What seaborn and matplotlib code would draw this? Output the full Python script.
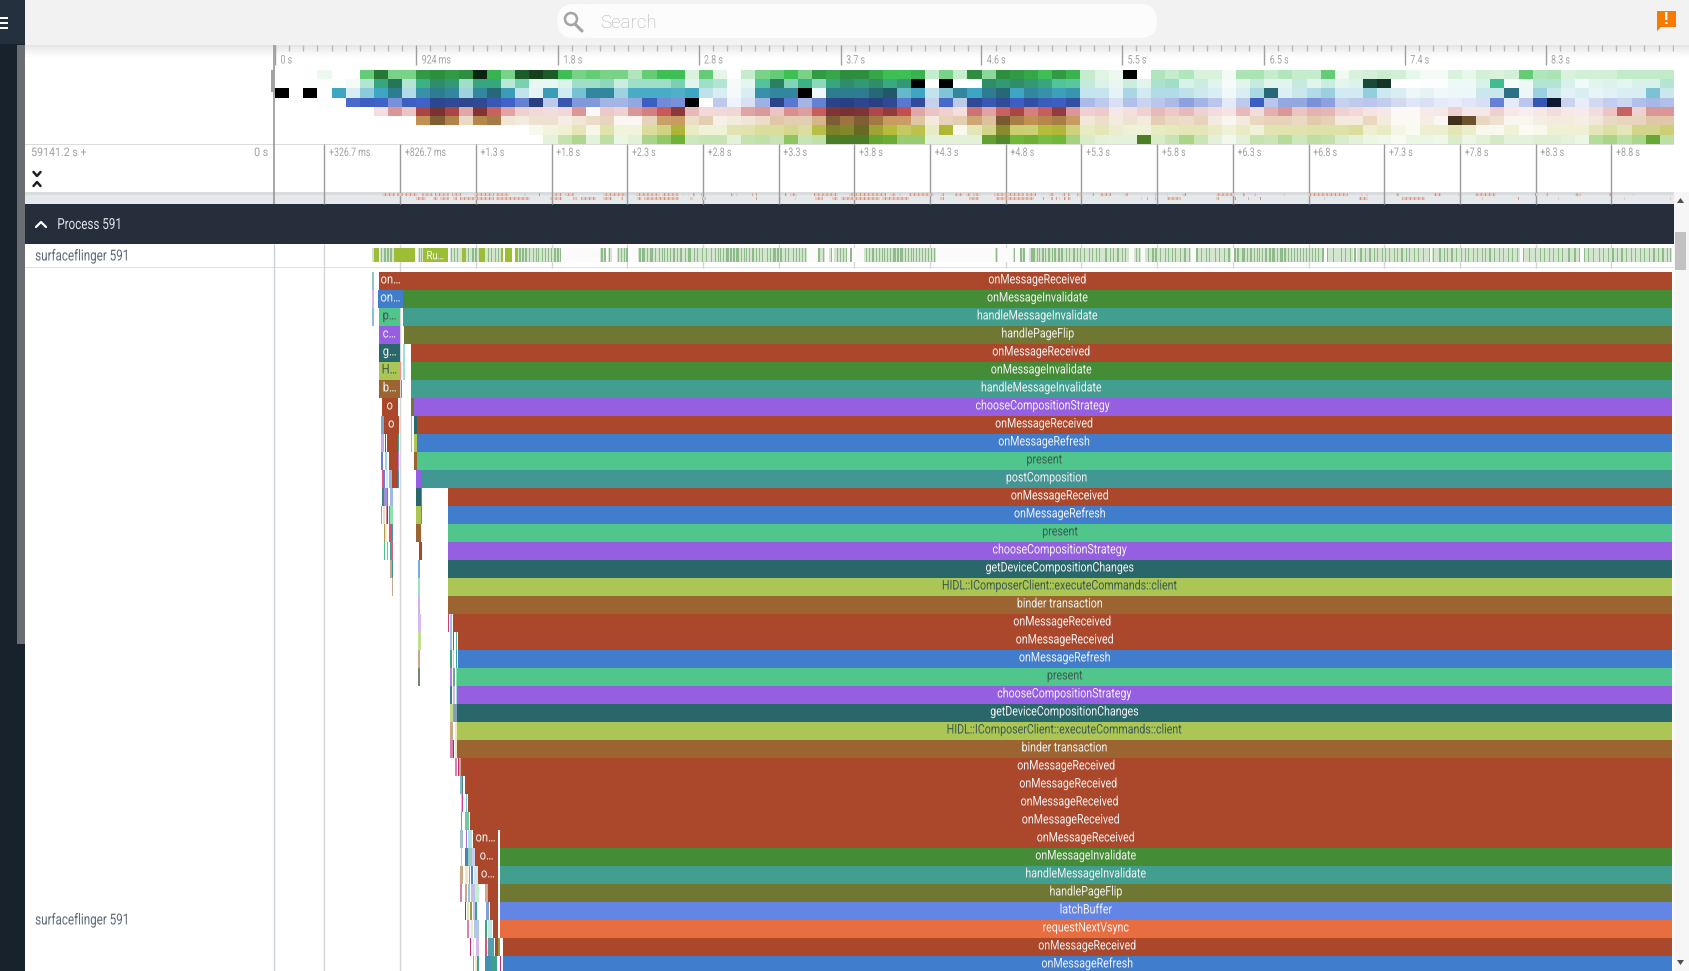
import matplotlib
matplotlib.use('Agg')
import matplotlib.pyplot as plt
import numpy as np
import pandas as pd
import seaborn as sns
from matplotlib.colors import LinearSegmentedColormap, to_rgb
from matplotlib.patches import Rectangle, FancyBboxPatch, Circle, Polygon
from matplotlib.patheffects import AbstractPathEffect
from matplotlib.transforms import Affine2D

W, H = 1689, 971

# cpu heat strip, one list per row, 0 = white, 5 = full colour, 10 = black
heat_hues = ['#3dbf55', '#3fbd8f', '#3ea6c2', '#3f62c8', '#c34f50', '#c29050', '#b5bb3a', '#70b838']
heat_0 = [0, 0, 0, .5, 0, 0, 4, 8, 3.5, 3.5, 6.5, 7, 6.5, 7, 9.5, 5.5, 3.5, 8.5, 9, 8.5, 5, 3.5, 4, 3.5, 3.5, 2, 4, 5, 5, 1, 4, .7, 0, 1.5, 3.5, 4, 5, 3.5, 6.5, 6, 7, 7, 6, 5, 5, 5.5, 1.5, 3.5, 1.5, 7,
          3, 7, 6.5, 6, 5, 6.5, 5.5, 1.5, .8, .5, 10, 0, 2, 1.5, 2, 1, 1, .3, 2.2, 2.2, 1.5, 2, 1.5, 1.5, 4, .4, 1, 1.2, 1.4, 1.2, .6, .3, .3, 1, .6, 1.2, 1, 1.2, 4, 2, 2.2, 1, 1.2, 1.2, 1.2, 1.6, 1.6, 1.6, 1.6]
heat_1 = [0, 0, .1, .1, .1, .3, 2, 6, 8, 2, 5.5, 7, 6.5, 2.5, 6, 6, 1.8, 3.5, .6, .6, .9, 2.5, 2.5, 3, 1.4, 2.5, 2.5, 2.5, 3.5, .8, 2.5, 2, .3, .7, 4.5, 7.5, 3.3, 5.5, 3, 6, 7, 6.5, 7, 5.8, 6.5, 10, 0, 10, 0, 0,
          7, 6.5, 7, 6.5, 6, 4.5, 4.3, 1.6, .9, .6, 1.4, .8, 2.2, 2.5, 1, 1.4, .8, .2, .8, 1.5, .8, .8, 1.5, .8, 1.4, .7, .9, 8.8, 9.2, 0, 0, .1, .1, .5, .5, 1, 5, .3, .5, 2, 2, 1, .4, .8, .9, .7, 1, 1, 2]
heat_2 = [10, 0, 10, 0, 5, 1, 3, 5, 7, 2, 6, 7, 6.5, 2.5, 6.5, 8, 5.5, 1.6, .7, 5.5, 1.2, 3.5, 6.5, 6.5, 2.5, 4.7, 4.7, 4.7, 4.5, 5, 1.7, 1, .3, 1, 6, 6.5, 6.5, 10, .4, 7, 7, 7, 8, 8.3, 4, 5, 1.6, 3.3, 6.5, 5,
          7, 8, 5, 6.5, 6, 5.3, 5.8, 1.5, 1.5, .7, 2.3, 1.2, 2, 2, 1.7, 1.3, 1, .4, 1, 2.2, 8, .9, 1.4, 2, 2.6, 1.2, 1.2, 2.8, 1.3, 1, .5, .7, .4, .5, .5, 1.4, 1.4, 7.5, .5, 2.6, 1.4, .8, 1, .6, .8, 1, 1, 3.4, 1.4]
heat_3 = [0, 0, 0, .1, 0, 4.7, 5.2, 5, 3.5, 5.3, 5, 7.2, 7, 7.3, 7, 5.8, 5, 4, 7.8, 1.7, 6, 3.3, 3.3, 2.4, 2.4, 2.8, 5.3, 3.7, 3.5, 10, 0, 1.7, .4, 1, 2.5, 7.5, 4.3, 2.4, 4, 7.5, 7.8, 7.3, 7.7, 7, 4.3, 6.8, 1.5, 4.8, 1.7, 7,
          5.8, 6.8, 5.2, 6.5, 5.5, 5.3, 6.5, 2.2, 1.7, 1, 2, 1.4, 1.8, 2.2, 3, 2.4, 1.8, .7, 1.7, 5.3, 1.8, 2.8, 2.8, 3.5, 3, 1.5, 1.7, 1.8, 1.6, 1.2, .8, 1, .7, .6, .8, 1, 4, .7, 1.8, 6, 9.3, 1.4, .6, 1.2, 1.6, 1.3, 2, 2.3, 2]
heat_4 = [0] * 7 + [.9, 3, 1.7, 6, 8, 6, 2.5, 7.7, 4.5, 2.6, 1.4, 1.1, 1, 1.1, 3, .2, 1.6, 1.3, 3, 3.6, 4.7, 7.3, 2, 1.1, 1.1, 1.2, 2.6, 2.9, 1.7, 3.2, 2.8, 4.6, 7.7, 8, 7.8, 5.8, 7, 5, 2.5, 1.7, 1.4, .9, 4,
                    2.6, 4.5, 6, 3.6, 4.6, 7, 3, 1.4, 1.5, .7, .9, 1.3, 2, 1.6, 2, 1.3, 1, .8, 2, 1, 2.3, 3, 1.7, 2.2, 2.1, 1.3, 1.1, .8, .7, .2, .2, .6, .7, 1.3, .7, .7, 1.4, .7, .5, .7, 1, .7, .6, 1, 1.7, 4.5, 1.3, 3, 3]
heat_5 = [0] * 10 + [5, 7.7, 5.7, 1.7, 5.5, 6.2, 1.2, .9, 1.4, 1.4, .8, 1.2, 1.6, 1.9, .4, .4, 2, 4.3, 4.5, 1.6, 2.2, .7, .9, 1.2, 1.6, 2.5, 2.2, 2.2, 3.3, 7.8, 6.5, 7.7, 6.3, 4.5, 4.4, 2.6, 1, 2, 2.2, 4,
                     2.8, 8, 6, 5, 5.5, 6, 4.5, 1.1, 1.5, .9, 1.3, .9, 2.2, 1.7, 1.6, 2, .9, .5, 1, 1.8, 2, 2, 1.7, 2.4, 2.1, 1, 1, 1.8, .9, .3, .3, .8, .4, 9, 8.2, 1.8, 1.4, .5, .5, .8, .9, .9, .8, 1.1, 1.7, 1.9, 1.9, 2.5, 2.5]
heat_6 = [0] * 18 + [.5, .8, 1.1, 1.8, .6, 2.1, .9, .9, 2.5, 3.2, 5.3, 1.5, 1, 1, 2, 2.1, 2.5, 2.5, 2.9, 2.4, 4.7, 7.5, 7.2, 8.2, 6, 5, 4, 4.6, 1.5, 5.2, .5, 1.8,
                     3, 7, 3.6, 3.5, 5, 5.2, 3.3, 1.6, 1.8, 1.3, 1, 1, 1.6, 1.7, 1.8, 1.8, 1.5, 1, 1.5, 1, 2, 2, 2.1, 2.2, 2.2, 2.2, 2.5, 1.2, 1.5, .7, .4, 1.2, 1.2, 1.8, 1.3, .5, .5, 1, .3, .5, 1.1, 1.1, 1.1, 1.8, 2.3, 1.8, 3, 3, 3.5]
heat_7 = [0] * 19 + [.9, 2, 2.8, .9, 2.3, .7, 1, 3, 3.8, 5.2, 1.7, 1.9, 1.9, 1, 2, 2.2, 1.9, 4, 1.9, 2.2, 7.5, 7.5, 7.5, 5.8, 5.5, 3.6, 3.6, 1, 1, 1, 1,
                     6, 7, 5, 5.3, 4.7, 5, 3.2, 1.4, 1, .9, .9, 7.5, 1.4, 1.9, 3, 1.8, 1, .5, 1, 2, 1.8, 2.5, 1.7, 2.3, 2.1, 1.3, 1, .7, .6, .3, .7, .7, .6, 1.3, .7, 1, 1.5, .9, .9, 1.1, 1.1, .9, .7, 2.5, 3, 2.3, 2.9, 5.7, 2.3]

overview_times = [0, .924, 1.85, 2.77, 3.7, 4.62, 5.54, 6.47, 7.39, 8.31]
overview_labels = ['0 s', '924 ms', '1.8 s', '2.8 s', '3.7 s', '4.6 s', '5.5 s', '6.5 s', '7.4 s', '8.3 s']
ruler_times = [.3267, .8267, 1.3267, 1.8267, 2.3267, 2.8267, 3.3267, 3.8267, 4.3267, 4.8267, 5.3267, 5.8267, 6.3267, 6.8267, 7.3267, 7.8267, 8.3267, 8.8267]
ruler_labels = ['+326.7 ms', '+826.7 ms', '+1.3 s', '+1.8 s', '+2.3 s', '+2.8 s', '+3.3 s', '+3.8 s', '+4.3 s', '+4.8 s',
                '+5.3 s', '+5.8 s', '+6.3 s', '+6.8 s', '+7.3 s', '+7.8 s', '+8.3 s', '+8.8 s']

# slices of the main thread
slice_colors = {
    'onMessageReceived': '#ab482b', 'onMessageInvalidate': '#458c37', 'handleMessageInvalidate': '#429f90',
    'handlePageFlip': '#6f7733', 'chooseCompositionStrategy': '#965ee0', 'onMessageRefresh': '#407dcc',
    'present': '#50c68c', 'postComposition': '#429694', 'getDeviceCompositionChanges': '#2a676b',
    'HIDL::IComposerClient::executeCommands::client': '#abc655', 'binder transaction': '#9c6430',
    'latchBuffer': '#6285e6', 'requestNextVsync': '#e86e40',
}
dark_text = ['present', 'HIDL::IComposerClient::executeCommands::client']
hidl = 'HIDL::IComposerClient::executeCommands::client'
long_names = ['onMessageReceived', 'onMessageInvalidate', 'handleMessageInvalidate', 'handlePageFlip',
              'onMessageReceived', 'onMessageInvalidate', 'handleMessageInvalidate', 'chooseCompositionStrategy',
              'onMessageReceived', 'onMessageRefresh', 'present', 'postComposition',
              'onMessageReceived', 'onMessageRefresh', 'present', 'chooseCompositionStrategy',
              'getDeviceCompositionChanges', hidl, 'binder transaction',
              'onMessageReceived', 'onMessageReceived', 'onMessageRefresh', 'present', 'chooseCompositionStrategy',
              'getDeviceCompositionChanges', hidl, 'binder transaction',
              'onMessageReceived', 'onMessageReceived', 'onMessageReceived', 'onMessageReceived',
              'onMessageReceived', 'onMessageInvalidate', 'handleMessageInvalidate', 'handlePageFlip',
              'latchBuffer', 'requestNextVsync', 'onMessageReceived', 'onMessageRefresh']
long_starts = [.845, .846, .843, .848, .896, .896, .896, .916, .933, .933, .933, .966,
               1.14, 1.14, 1.14, 1.14, 1.14, 1.14, 1.14,
               1.173, 1.205, 1.205, 1.202, 1.202, 1.202, 1.202, 1.202,
               1.225, 1.252, 1.269, 1.285, 1.482, 1.482, 1.482, 1.482, 1.482, 1.482, 1.502, 1.502]
long_end = 9.203

# depth, start, end, name, label
short_slices = [
    (0, .683, .841, 'onMessageReceived', 'on…'), (1, .681, .841, 'onMessageRefresh', 'on…'),
    (2, .685, .823, 'present', 'p…'), (3, .685, .823, 'chooseCompositionStrategy', 'c…'),
    (4, .685, .826, 'getDeviceCompositionChanges', 'g…'), (5, .685, .823, hidl, 'H…'),
    (6, .685, .826, 'binder transaction', 'b…'), (7, .702, .810, 'onMessageReceived', 'o'),
    (8, .718, .814, 'onMessageReceived', 'o'), (9, .735, .810, 'onMessageReceived', ''),
    (10, .751, .810, 'onMessageReceived', ''), (11, .769, .808, 'onMessageReceived', ''),
    (31, 1.304, 1.471, 'onMessageReceived', 'on…'), (32, 1.318, 1.471, 'onMessageReceived', 'o…'),
    (33, 1.335, 1.471, 'onMessageReceived', 'o…'), (34, 1.403, 1.471, 'onMessageReceived', ''),
    (35, 1.416, 1.471, 'onMessageReceived', ''), (36, 1.434, 1.471, 'onMessageReceived', ''),
    (37, 1.449, 1.471, 'onMessageReceived', ''),
]

# thin unlabelled slices: depth, start, end, colour
slivers = [
    (0, .639, .652, '#8cc8c0'), (1, .639, .652, '#d4b5f0'), (2, .639, .652, '#8cbcd8'),
    (8, .698, .718, '#7ea8c8'), (9, .698, .718, '#c8a8e8'), (9, .725, .731, '#3060c0'), (9, .810, .817, '#45a090'),
    (10, .698, .712, '#6b7fd0'), (10, .725, .738, '#a8c8f0'), (10, .810, .817, '#b07ee0'),
    (11, .702, .712, '#e05080'), (11, .712, .722, '#6b7fd0'), (11, .731, .745, '#d0efe0'), (11, .751, .768, '#90b8e0'), (11, .810, .817, '#5090c8'),
    (12, .702, .712, '#3f7f80'), (12, .712, .720, '#5078c0'), (12, .720, .735, '#a090d8'), (12, .735, .745, '#40a090'), (12, .757, .775, '#a0b8e8'),
    (13, .698, .705, '#c49478'), (13, .712, .725, '#e8e0c8'), (13, .731, .735, '#e080a0'), (13, .738, .742, '#406060'), (13, .748, .757, '#e06080'), (13, .760, .775, '#90e0b0'),
    (14, .716, .725, '#b09850'), (14, .725, .735, '#f0e8d0'), (14, .735, .738, '#808030'), (14, .750, .757, '#6080d0'), (14, .760, .770, '#e05070'), (14, .770, .775, '#40a0a0'),
    (15, .715, .722, '#50c090'), (15, .735, .745, '#c8a070'), (15, .757, .765, '#40a090'), (15, .765, .775, '#e06080'),
    (16, .757, .772, '#c8a888'), (16, .772, .778, '#3f8f90'), (17, .768, .778, '#c8a888'),
    (4, .843, .856, '#a0dce0'), (5, .823, .832, '#f09090'), (5, .843, .856, '#a0dce0'), (6, .829, .836, '#50a0a0'),
    (7, .896, .916, '#6f7733'), (8, .896, .903, '#70c8d8'), (9, .896, .903, '#70c8d8'),
    (8, .916, .933, '#2a676b'), (9, .916, .933, '#abc655'), (10, .916, .933, '#9c6430'),
    (11, .929, .966, '#965ee0'), (12, .929, .962, '#2a676b'), (12, .962, .968, '#5090c8'),
    (13, .929, .962, '#abc655'), (13, .962, .968, '#5090c8'), (14, .929, .962, '#9c6430'),
    (15, .949, .968, '#ab482b'), (16, .942, .955, '#80a8e0'), (17, .942, .955, '#a0e0c0'),
    (18, .942, .955, '#d0b0f0'), (19, .942, .962, '#d8b8f0'), (20, .942, .962, '#c0e090'),
    (21, .942, .955, '#c8a888'), (22, .942, .955, '#708870'),
    (19, 1.14, 1.149, '#d04070'), (19, 1.155, 1.166, '#a0c0e8'),
    (20, 1.153, 1.166, '#a0c0e8'), (20, 1.171, 1.180, '#4070c0'), (20, 1.192, 1.198, '#60b0a0'),
    (21, 1.155, 1.166, '#40a080'), (21, 1.175, 1.182, '#a0e0b0'), (21, 1.190, 1.201, '#40a0a0'),
    (22, 1.153, 1.166, '#b080e0'), (22, 1.175, 1.184, '#70a0a0'), (22, 1.190, 1.201, '#90e0b0'),
    (23, 1.153, 1.166, '#407f90'), (23, 1.175, 1.186, '#d0b8f0'), (23, 1.190, 1.201, '#a0e0d0'),
    (24, 1.153, 1.170, '#c0d890'), (24, 1.175, 1.197, '#80a0b0'),
    (25, 1.153, 1.170, '#c8a888'), (25, 1.186, 1.201, '#f0e8c0'),
    (26, 1.153, 1.170, '#d880a8'), (26, 1.172, 1.177, '#a03060'), (26, 1.184, 1.201, '#f0e8c0'),
    (27, 1.186, 1.201, '#d880a8'), (27, 1.208, 1.214, '#c03070'), (27, 1.214, 1.223, '#c8a888'),
    (28, 1.219, 1.232, '#80b8d8'), (28, 1.232, 1.241, '#508080'),
    (29, 1.223, 1.232, '#a0e0d0'), (29, 1.232, 1.239, '#d04090'), (29, 1.256, 1.265, '#70c8d8'),
    (30, 1.223, 1.234, '#8888e8'), (30, 1.254, 1.280, '#70c8a0'),
    (31, 1.221, 1.236, '#a0c0d0'), (31, 1.256, 1.265, '#a070e0'), (31, 1.269, 1.296, '#b0e0e0'),
    (32, 1.223, 1.232, '#b0e090'), (32, 1.252, 1.269, '#5080b0'), (32, 1.274, 1.296, '#90d0c0'), (32, 1.296, 1.315, '#d0c8f0'),
    (33, 1.221, 1.236, '#c8a888'), (33, 1.254, 1.271, '#f0e8c0'), (33, 1.276, 1.285, '#e080a0'), (33, 1.289, 1.306, '#6080c0'), (33, 1.311, 1.335, '#d0e8f0'),
    (34, 1.221, 1.232, '#d880a8'), (34, 1.254, 1.263, '#c8a888'), (34, 1.274, 1.285, '#90c8e0'), (34, 1.289, 1.318, '#c0c0e8'), (34, 1.320, 1.342, '#c0f0d0'), (34, 1.383, 1.405, '#d0a890'),
    (35, 1.254, 1.261, '#a03070'), (35, 1.267, 1.278, '#e8e0c0'), (35, 1.285, 1.296, '#90a050'), (35, 1.302, 1.318, '#c8c0e8'), (35, 1.318, 1.333, '#40a090'), (35, 1.387, 1.412, '#80a0d8'),
    (36, 1.267, 1.278, '#e080b0'), (36, 1.289, 1.302, '#f0e8c8'), (36, 1.311, 1.346, '#b0c8e8'), (36, 1.383, 1.399, '#40a090'), (36, 1.405, 1.427, '#c0e8e0'),
    (37, 1.287, 1.294, '#c03080'), (37, 1.304, 1.313, '#f0e8c8'), (37, 1.324, 1.346, '#d0b8f0'), (37, 1.383, 1.399, '#e05070'), (37, 1.405, 1.443, '#50a0b0'), (37, 1.471, 1.480, '#90a040'),
    (38, 1.302, 1.311, '#e080a8'), (38, 1.320, 1.333, '#f0e8c8'), (38, 1.333, 1.346, '#40a0a0'), (38, 1.383, 1.420, '#4090b0'), (38, 1.420, 1.460, '#40a090'), (38, 1.482, 1.489, '#c03080'),
]

# log marks in the two rows under the ruler, start and end in s
marks_top = [(.708, .790), (.804, .845), (.858, .940), (.967, 1.041), (1.057, 1.145), (1.167, 1.227), (1.309, 1.445), (1.459, 1.541),
             (1.642, 1.653), (1.740, 1.746), (1.836, 1.888), (1.910, 1.970), (2.163, 2.314), (2.379, 2.538), (2.551, 2.660), (2.688, 2.696),
             (2.721, 2.729), (2.756, 2.764), (2.805, 2.811), (3.007, 3.024), (3.035, 3.051), (3.139, 3.149), (3.166, 3.174), (3.357, 3.373),
             (3.390, 3.439), (3.548, 3.712), (3.780, 3.808), (3.821, 4.026), (4.053, 4.089), (4.108, 4.122), (4.176, 4.340), (4.389, 4.408),
             (4.477, 4.531), (4.553, 4.586), (4.600, 4.646), (4.736, 4.936), (4.947, 5.013), (5.101, 5.134), (5.183, 5.205), (5.222, 5.238),
             (5.280, 5.326), (5.381, 5.395), (5.436, 5.508), (5.596, 5.618), (5.794, 5.805), (5.874, 5.882), (5.976, 5.998), (6.201, 6.325),
             (6.380, 6.389), (6.452, 6.460), (6.645, 6.653), (6.807, 7.068), (7.151, 7.170), (7.187, 7.200), (7.385, 7.404), (7.638, 7.682),
             (7.795, 7.803), (7.908, 8.045), (8.301, 8.312), (8.375, 8.386), (8.563, 8.604), (8.791, 8.799), (8.945, 8.953)]
marks_bottom = [(.932, .995), (1.041, 1.077), (1.090, 1.145), (1.172, 1.200), (1.221, 1.445), (1.459, 1.677), (1.814, 1.828), (1.841, 1.888),
                (1.964, 1.992), (2.019, 2.114), (2.161, 2.218), (2.237, 2.243), (2.278, 2.292), (2.387, 2.415), (2.428, 2.660), (2.734, 2.756),
                (2.811, 2.838), (3.166, 3.174), (3.330, 3.335), (3.425, 3.434), (3.556, 3.611), (3.666, 3.712), (3.726, 3.985), (3.999, 4.176),
                (4.381, 4.408), (4.572, 4.640), (4.750, 5.002), (5.057, 5.065), (5.114, 5.128), (5.142, 5.150), (5.164, 5.172), (5.197, 5.211),
                (5.224, 5.244), (5.706, 5.714), (5.742, 5.750), (5.797, 5.805), (5.877, 5.968), (6.196, 6.218), (6.317, 6.331), (6.408, 6.416),
                (6.490, 6.496), (6.911, 6.917), (7.143, 7.198), (7.426, 7.577), (7.949, 7.957), (8.188, 8.194), (8.452, 8.460), (8.885, 8.890), (9.187, 9.193)]

# thread state strip
running_spans = [(.653, .686), (.784, .921), (.976, 1.139), (1.232, 1.260), (1.342, 1.385), (1.486, 1.505), (1.514, 1.563), (1.582, 1.601)]
pale_spans = [(.640, .653), (.694, .784), (.940, .976), (1.150, 1.232), (1.260, 1.342), (1.385, 1.486), (1.601, 1.882), (2.144, 2.183),
              (2.196, 2.218), (2.256, 2.319), (2.388, 3.507), (3.575, 3.622), (3.652, 3.666), (3.685, 3.767), (3.788, 3.802), (3.881, 4.354),
              (4.744, 4.763), (4.859, 4.878), (4.908, 4.936), (4.969, 5.623), (5.657, 5.706), (5.734, 6.036), (6.064, 6.298), (6.317, 6.90),
              (6.93, 7.10), (7.13, 7.60), (7.62, 8.20), (8.23, 8.60), (8.62, 9.203)]
sleep_ticks = [.70, .72, .74, .76, .95, .96, 1.16, 1.18, 1.20, 1.27, 1.30, 1.32, 1.40, 1.42, 1.45, 1.47,
               1.61, 1.63, 1.65, 1.67, 1.70, 1.72, 1.73, 1.76, 1.78, 1.80, 1.82, 1.84, 1.86, 1.875,
               2.15, 2.17, 2.20, 2.26, 2.28, 2.30, 2.315,
               2.40, 2.42, 2.43, 2.45, 2.47, 2.48, 2.50, 2.53, 2.55, 2.56, 2.58, 2.60, 2.62, 2.63, 2.65, 2.67, 2.70, 2.72, 2.73, 2.76, 2.78,
               2.81, 2.84, 2.87, 2.90, 2.92, 2.93, 2.95, 2.97, 2.98, 3.00, 3.02, 3.04, 3.05, 3.07, 3.09, 3.10, 3.12, 3.14, 3.15, 3.17, 3.19,
               3.21, 3.24, 3.26, 3.28, 3.29, 3.31, 3.33, 3.36, 3.38, 3.41, 3.43, 3.45, 3.47, 3.49,
               3.58, 3.61, 3.66, 3.70, 3.72, 3.74, 3.76, 3.79,
               3.89, 3.91, 3.93, 3.94, 3.96, 3.98, 4.00, 4.01, 4.03, 4.05, 4.07, 4.08, 4.10, 4.12, 4.13, 4.15, 4.17, 4.19, 4.20, 4.22, 4.24,
               4.26, 4.28, 4.30, 4.32, 4.34, 4.75, 4.87, 4.91, 4.93,
               4.98, 4.99, 5.00, 5.02, 5.03, 5.05, 5.06, 5.07, 5.09, 5.10, 5.12, 5.13, 5.14, 5.16, 5.18, 5.21, 5.23, 5.26, 5.28, 5.30, 5.33,
               5.36, 5.38, 5.41, 5.43, 5.47, 5.50, 5.52, 5.55, 5.58, 5.60, 5.67, 5.69,
               5.75, 5.78, 5.80, 5.83, 5.86, 5.88, 5.91, 5.93, 5.96, 5.99, 6.02, 6.07, 6.10, 6.13, 6.15, 6.19, 6.22, 6.25, 6.28, 6.32, 6.34,
               6.37, 6.38, 6.40, 6.42, 6.43, 6.45, 6.47, 6.48, 6.50, 6.52, 6.53, 6.55, 6.57, 6.58, 6.60, 6.62, 6.63, 6.65, 6.67, 6.69, 6.71,
               6.73, 6.75, 6.77, 6.79, 6.81, 6.83, 6.85, 6.87, 6.90, 6.93, 6.97, 7.02, 7.05, 7.08, 7.11, 7.15, 7.18, 7.21, 7.24, 7.26, 7.29,
               7.31, 7.34, 7.37, 7.39, 7.42, 7.45, 7.47, 7.50, 7.53, 7.56, 7.60, 7.63, 7.67, 7.70, 7.72, 7.75, 7.78, 7.81, 7.84, 7.86, 7.89,
               7.92, 7.95, 7.97, 8.00, 8.03, 8.06, 8.09, 8.12, 8.15, 8.18, 8.22, 8.26, 8.30, 8.33, 8.36, 8.39, 8.42, 8.45, 8.48, 8.52, 8.56,
               8.59, 8.62, 8.65, 8.68, 8.72, 8.75, 8.78, 8.81, 8.84, 8.87, 8.90, 8.93, 8.96, 8.99, 9.02, 9.05, 9.08, 9.11, 9.14, 9.17, 9.19]

sns.set_theme(style='white')
plt.rcParams['font.family'] = ['Roboto', 'DejaVu Sans']
plt.rcParams['hatch.linewidth'] = .7

fig = plt.figure(figsize=(W / 100, H / 100), dpi=100, facecolor='white')


class Squeeze(AbstractPathEffect):
    # the reference uses a condensed face, so narrow the glyph paths around the anchor
    def __init__(self, factor, anchor='center'):
        super().__init__()
        self.factor = factor
        self.anchor = anchor

    def draw_path(self, renderer, gc, tpath, affine, rgbFace=None):
        ext = tpath.get_extents(affine)
        x = {'left': ext.x0, 'center': (ext.x0 + ext.x1) / 2, 'right': ext.x1}[self.anchor]
        narrowed = affine + Affine2D().translate(-x, 0).scale(self.factor, 1).translate(x, 0)
        renderer.draw_path(gc, tpath, narrowed, rgbFace)


def label(ax, x, y, text, size, color, factor, ha='left', **kw):
    ax.text(x, y, text, fontsize=size, color=color, ha=ha, va='center_baseline',
            path_effects=[Squeeze(factor, ha)], **kw)


def panel(x0, y0, x1, y1, z=1):
    ax = fig.add_axes([x0 / W, 1 - y1 / H, (x1 - x0) / W, (y1 - y0) / H], zorder=z)
    ax.patch.set_alpha(0)
    ax.set_axis_off()
    return ax


# page chrome in pixel coordinates
base = panel(0, 0, W, H, 0)
base.set_xlim(0, W)
base.set_ylim(H, 0)


def box(x0, y0, x1, y1, color, ax=base, **kw):
    ax.add_patch(Rectangle((x0, y0), x1 - x0, y1 - y0, facecolor=color, edgecolor='none', **kw))


for i, shade in enumerate(['#e6e6e6', '#ececec', '#f1f1f1', '#f5f5f5', '#f9f9f9', '#fcfcfc']):
    box(25, 45 + i * 2, W, 47 + i * 2, shade)
box(25, 0, W, 45, '#f2f2f2')
box(0, 0, 25, 44, '#25303e')
box(0, 44, 25, H, '#18222c')
box(17, 45, 25, 644, '#6a6d72')
for y in [17, 22, 27]:
    box(0, y, 8, y + 2, 'white')
base.add_patch(FancyBboxPatch((574, 4), 567, 34, boxstyle='round,pad=0,rounding_size=17', facecolor='#fcfcfc', edgecolor='none'))
base.add_patch(FancyBboxPatch((557, 4), 40, 34, boxstyle='round,pad=0,rounding_size=17', facecolor='#fcfcfc', edgecolor='none'))
base.add_patch(FancyBboxPatch((1117, 4), 40, 34, boxstyle='round,pad=0,rounding_size=17', facecolor='#fcfcfc', edgecolor='none'))
base.add_patch(Circle((571, 19), 6, facecolor='none', edgecolor='#a4a4a4', linewidth=1.8))
base.plot([575, 582], [24, 31], color='#a4a4a4', linewidth=2.2, solid_capstyle='round')
base.text(600, 23, 'Search', fontsize=13.5, color='#b4b4b4', va='center', fontweight='light')
base.add_patch(Polygon([(1657, 11), (1676, 11), (1676, 27), (1661, 27), (1657, 31)], facecolor='#f57c00', edgecolor='none'))
base.text(1666.5, 19, '!', color='white', fontsize=12, ha='center', va='center', fontweight='bold')

box(1674, 192, W, H, '#f6f6f6')
box(1675, 232, 1686, 270, '#c2c2c2')
base.add_patch(Polygon([(1677, 203), (1684, 203), (1680.5, 198)], facecolor='#505050', edgecolor='none'))
base.add_patch(Polygon([(1677, 960), (1684, 960), (1680.5, 965)], facecolor='#505050', edgecolor='none'))

box(25, 192, 1674, 204, '#e5e9eb')
box(25, 192, 1674, 195, '#d8dcdf')
box(25, 144, 1674, 145, '#dcdcdc')
box(25, 267, 1674, 268.5, '#e0e0e0')

# grid lines behind everything else
grid = panel(275, 144, 1674, H, 1)
grid.set_xlim(0, 9.24)
grid.set_ylim(H, 144)
grid.vlines(ruler_times, 144, 204, color='#9a9a9a', linewidth=1)
grid.vlines(ruler_times[:2], 244, H, color='#d6d6d6', linewidth=1)
grid.vlines(ruler_times[2:], 244, 268, color='#d6d6d6', linewidth=1)
base.vlines(274.3, 45, 204, color='#8f8f8f', linewidth=1.1)
base.vlines(274.3, 244, H, color='#c3d3dc', linewidth=1)

label(base, 31, 151, '59141.2 s +', 8.5, '#a2a2a2', .9)
label(base, 268, 151, '0 s', 8.5, '#a2a2a2', .9, ha='right')
for y0, sign in [(174, 1), (184, -1)]:
    base.plot([33.5, 37, 40.5], [y0 - 2 * sign, y0 + 2 * sign, y0 - 2 * sign], color='#202020', linewidth=1.8)
for t, lab in zip(ruler_times, ruler_labels):
    label(grid, t + .03, 151, lab, 8.5, '#a2a2a2', .74)

# overview ruler
over = panel(275, 45, 1674, 68, 2)
over.set_xlim(0, 9.15)
over.set_ylim(23, 0)
minor = np.array(overview_times[:1] + [t + k * .0924 for t in overview_times for k in range(1, 10)])
over.vlines(minor[minor < 9.15], 0, 6, color='#b8b8b8', linewidth=1)
over.vlines(overview_times, 0, 20, color='#a0a0a0', linewidth=1)
for t, lab in zip(overview_times, overview_labels):
    label(over, t + .035, 13.5, lab, 8.5, '#a2a2a2', .74)

# cpu heat strip
heat_rows = [heat_0, heat_1, heat_2, heat_3, heat_4, heat_5, heat_6, heat_7]
heat_df = pd.DataFrame(heat_rows)
heat_ax = panel(275, 70, 1674, 144, 2)
for row, hue in enumerate(heat_hues):
    rgb = np.array(to_rgb(hue))
    cmap = LinearSegmentedColormap.from_list(f'h{row}', [(0, 'white'), (.5, hue), (.8, rgb * .62), (.95, rgb * .2), (1, 'black')])
    mask = np.ones(heat_df.shape, dtype=bool)
    mask[row] = False
    sns.heatmap(heat_df, mask=mask, cmap=cmap, vmin=0, vmax=10, cbar=False, ax=heat_ax,
                xticklabels=False, yticklabels=False)
heat_ax.set_axis_off()
box(271, 70, 276, 92, '#a2a2a2', zorder=5)

# log marks
marks = panel(275, 192, 1674, 204, 2)
marks.set_xlim(0, 9.216)
marks.set_ylim(12, 0)
for spans, top in [(marks_top, 1.2), (marks_bottom, 5.2)]:
    marks.broken_barh([(a, b - a) for a, b in spans], (top, 3.2), facecolor='#eccabd', edgecolor='#d98a72',
                      hatch='||||', linewidth=0)

# process header
box(25, 204, 1674, 244, '#262e3c', zorder=3)
head = panel(25, 204, 1674, 244, 4)
head.set_xlim(25, 1674)
head.set_ylim(244, 204)
head.plot([36, 41, 46], [227, 222, 227], color='white', linewidth=1.6)
label(head, 57, 223.5, 'Process 591', 11, '#dfe3e8', .76)

label(base, 35, 255, 'surfaceflinger 591', 11, '#5f6b78', .76)
label(base, 35, 919, 'surfaceflinger 591', 11, '#5f6b78', .76)

# thread state strip
state = panel(275, 248, 1674, 262, 2)
state.set_xlim(0, 9.216)
state.set_ylim(1, 0)
state.barh(.5, 9.203 - .64, left=.64, height=1, color='#fbfbfb', linewidth=0)
state.broken_barh([(a, b - a) for a, b in pale_spans], (0, 1), facecolor='#d3e4cf', linewidth=0)
state.barh([.5] * len(sleep_ticks), [.008] * len(sleep_ticks), left=sleep_ticks, height=1, color='#8fba8c', linewidth=0)
state.broken_barh([(a, b - a) for a, b in running_spans], (0, 1), facecolor='#9cbd35', linewidth=0)
label(state, 1.055, .45, 'Ru…', 8.5, 'white', .8, ha='center')

# flame chart
flame = panel(275, 268, 1674, H, 3)
flame.set_xlim(0, 9.216)
flame.set_ylim((H - 272) / 18, -4 / 18)

depths = np.arange(len(long_names))
flame.barh(depths + .5, [long_end - s for s in long_starts], left=long_starts, height=1,
           color=[slice_colors[n] for n in long_names], linewidth=0, antialiased=False)
for d, name, s in zip(depths, long_names, long_starts):
    label(flame, (s + long_end) / 2, d + .36, name, 9.5, '#3d5a52' if name in dark_text else '#f2f2f2', .805,
          ha='center', clip_on=True)

for d, a, b, name, lab in short_slices:
    flame.barh(d + .5, b - a, left=a, height=1, color=slice_colors[name], linewidth=0, antialiased=False)
    if lab:
        label(flame, (a + b) / 2, d + .36, lab, 9.5, '#3d5a52' if name in dark_text else '#f2f2f2', .85, ha='center')

for d, a, b, col in slivers:
    flame.barh(d + .5, b - a, left=a, height=1, color=col, linewidth=0)

fig.savefig('out.png', dpi=100, facecolor='white')
